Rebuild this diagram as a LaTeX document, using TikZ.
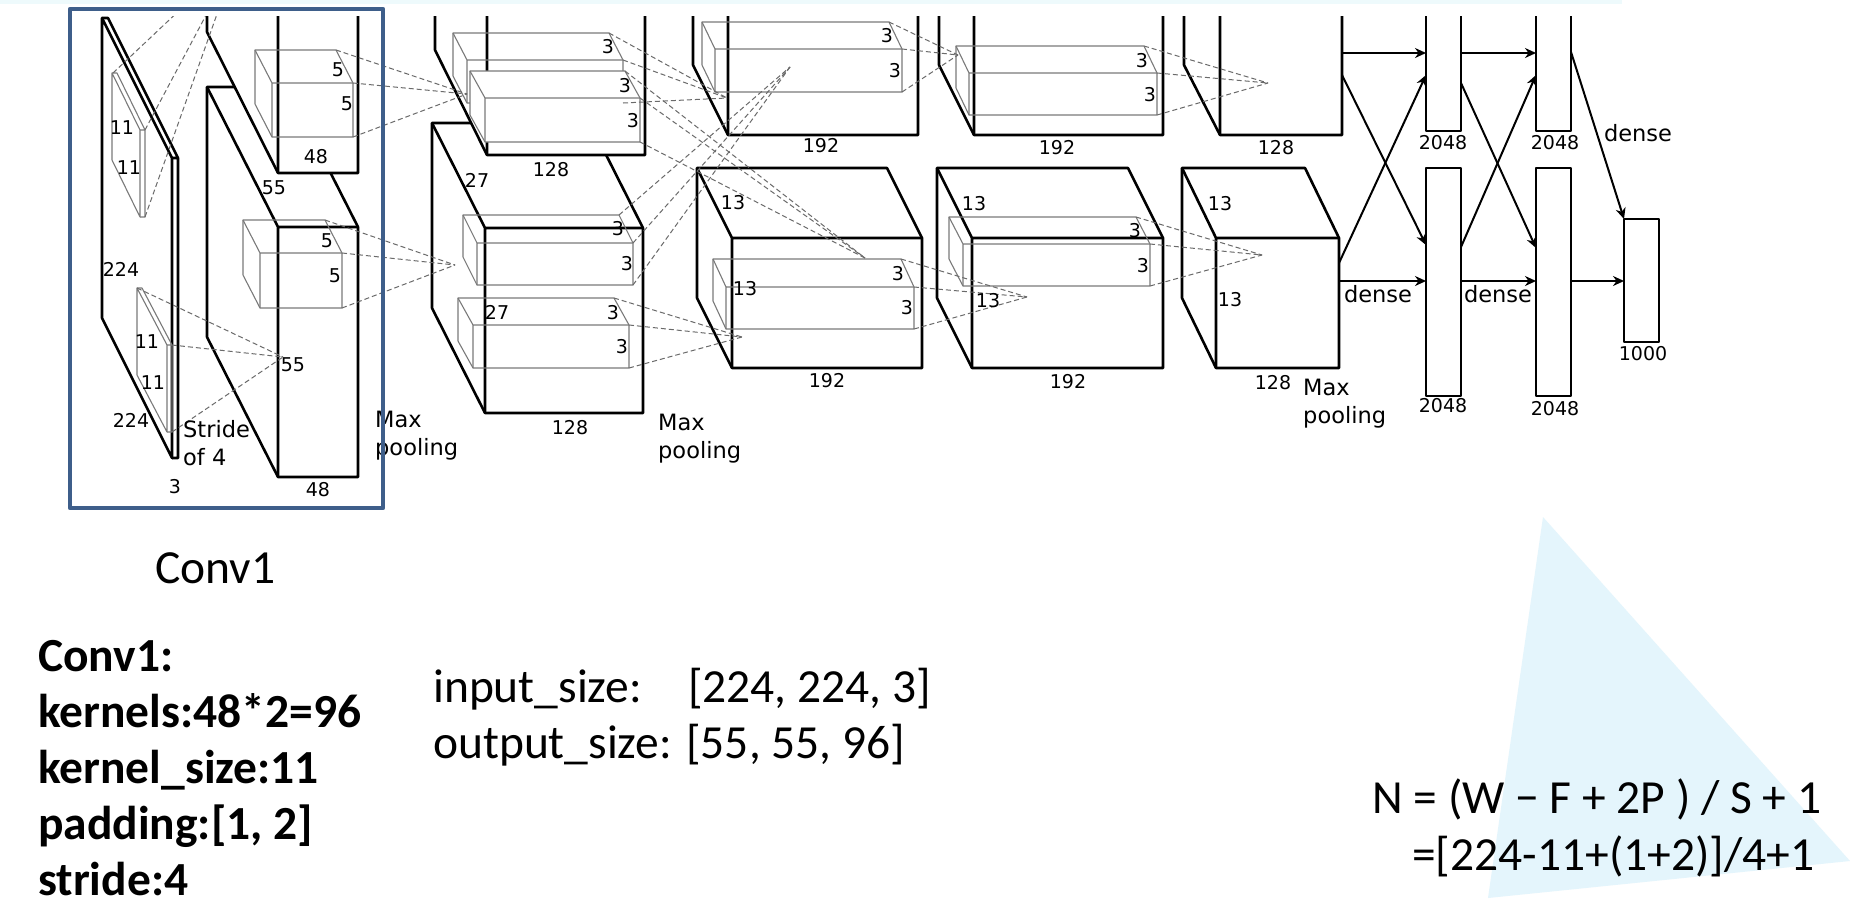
\documentclass[tikz,border=0pt]{standalone}
\usepackage{fontspec}
\setmainfont{Carlito}
\newfontfamily\figfont{DejaVu Sans}
\usetikzlibrary{arrows.meta}
\definecolor{frameblue}{HTML}{3E5E8A}
\definecolor{triblue}{HTML}{E4F5FC}
\definecolor{topcyan}{HTML}{EEFAFC}
\definecolor{kgray}{HTML}{7A7A7A}
\definecolor{dgray}{HTML}{6A6A6A}
% #1 name, #2 style, #3 x, #4 y (front top left), #5 w, #6 h, #7 dx, #8 dy (back offset)
\newcommand{\kbox}[8]{%
 \coordinate (#1-ftl) at (#3,#4);
 \coordinate (#1-ftr) at ({#3+#5},#4);
 \coordinate (#1-fbr) at ({#3+#5},{#4+#6});
 \coordinate (#1-fbl) at (#3,{#4+#6});
 \coordinate (#1-btl) at ({#3+(#7)},{#4+(#8)});
 \coordinate (#1-btr) at ({#3+#5+(#7)},{#4+(#8)});
 \coordinate (#1-bbl) at ({#3+(#7)},{#4+#6+(#8)});
 \path[#2] (#1-fbl) -- (#1-bbl) -- (#1-btl) -- (#1-btr) -- (#1-ftr) -- (#1-fbr) -- cycle;
 \draw[#2,fill=none] (#1-ftl) -- (#1-ftr) (#1-ftl) -- (#1-fbl) (#1-ftl) -- (#1-btl);
}
\begin{document}
\begin{tikzpicture}[x=1pt, y=-1pt, line join=round,
  blk/.style={draw=black, line width=2.6, fill=white},
  kb/.style={draw=kgray, line width=1.1},
  kbf/.style={kb, fill=white},
  dsh/.style={draw=dgray, line width=1, dash pattern=on 5pt off 3pt},
  num/.style={font=\figfont\fontsize{19}{20}\selectfont, inner sep=0},
  word/.style={font=\figfont\fontsize{22.5}{24}\selectfont, inner sep=0, anchor=base west},
  dlab/.style={font=\figfont\fontsize{22.5}{24}\selectfont, inner sep=0},
  arr/.style={line width=2, -{Stealth[length=11pt,width=10pt]}},
  slide/.style={font=\fontsize{47.5}{56}\selectfont, inner sep=0, anchor=base west},
  slideb/.style={font=\bfseries\fontsize{47.5}{56}\selectfont, inner sep=0, anchor=base west}]
\useasboundingbox (0,0) rectangle (1850,906);
\fill[white] (0,0) rectangle (1850,906);
\fill[topcyan] (0,0) rectangle (1622,4);
\fill[triblue] (1543,517) -- (1850,861) -- (1488,898) -- cycle;

\begin{scope}
\clip (0,16) rectangle (1850,520);
% ---- input 224x224x3
\draw[line width=2.6, fill=white] (102,18) -- (102,318) -- (172,458) -- (172,158) -- cycle;
\draw[line width=2.6] (102,18) -- (108,18) -- (178,158) -- (178,458) -- (172,458) (172,158) -- (178,158);
% input kernels 11x11
\draw[kb] (112,73) -- (112,160) -- (140,217) -- (140,130) -- cycle;
\draw[kb] (112,73) -- (117,73) -- (145,130) -- (145,217) -- (140,217) (140,130) -- (145,130);
\draw[kb] (137,288) -- (137,375) -- (167,432) -- (167,345) -- cycle;
\draw[kb] (137,288) -- (142,288) -- (172,345) -- (172,432) -- (167,432) (167,345) -- (172,345);
\coordinate (ia1) at (113,73); \coordinate (ia2) at (145,130); \coordinate (ia3) at (145,217);
\coordinate (ib1) at (137,288); \coordinate (ib2) at (172,345); \coordinate (ib3) at (172,432);
\coordinate (p1u) at (238,-45); \coordinate (p1l) at (283,357);
% ---- conv1 55x55x48 (two streams)
\kbox{c1l}{blk}{278}{227}{80}{250}{-71}{-140}
\kbox{c1u}{blk}{278}{-77}{80}{250}{-71}{-141}
\kbox{k1u}{kb}{272}{83}{81}{54}{-17}{-33}
\kbox{k1l}{kb}{260}{253}{82}{55}{-17}{-33}
\coordinate (p2u) at (467,94); \coordinate (p2l) at (455,265);
% ---- conv2 27x27x128
\kbox{c2l}{blk}{485}{228}{158}{185}{-53}{-105}
\kbox{c2u}{blk}{487}{-30}{158}{185}{-52}{-105}
\kbox{kA}{kb}{467}{60}{156}{43}{-14}{-27}
\kbox{kB}{kbf}{485}{98}{155}{44}{-15}{-27}
\kbox{kC}{kb}{477}{243}{156}{42}{-14}{-28}
\kbox{kD}{kb}{473}{325}{156}{43}{-15}{-27}
\coordinate (p3a) at (727,98); \coordinate (p3b) at (865,258);
\coordinate (p3c) at (790,67); \coordinate (p3d) at (742,337);
% ---- conv3 13x13x192
\kbox{c3l}{blk}{732}{238}{190}{130}{-35}{-70}
\kbox{c3u}{blk}{728}{5}{190}{130}{-35}{-70}
\kbox{kE}{kb}{715}{49}{187}{43}{-13}{-27}
\kbox{kF}{kb}{726}{287}{188}{42}{-13}{-28}
\coordinate (p4u) at (958,55); \coordinate (p4l) at (1027,297);
% ---- conv4 13x13x192
\kbox{c4l}{blk}{972}{238}{191}{130}{-35}{-70}
\kbox{c4u}{blk}{974}{5}{189}{130}{-35}{-70}
\kbox{kG}{kb}{969}{73}{188}{42}{-13}{-27}
\kbox{kH}{kb}{963}{244}{187}{42}{-14}{-27}
\coordinate (p5u) at (1268,83); \coordinate (p5l) at (1262,255);
% ---- conv5 13x13x128
\kbox{c5l}{blk}{1216}{238}{123}{130}{-34}{-70}
\kbox{c5u}{blk}{1220}{5}{122}{130}{-36}{-70}
% ---- dense layers
\draw[blk] (1426,-10) rectangle (1461,131);
\draw[blk] (1426,168) rectangle (1461,396);
\draw[blk] (1536,-10) rectangle (1571,131);
\draw[blk] (1536,168) rectangle (1571,396);
\draw[blk] (1624,219) rectangle (1659,342);
% ---- dashed receptive-field lines
\foreach \c in {ia1,ia2,ia3} \draw[dsh] (\c) -- (p1u);
\foreach \c in {ib1,ib2,ib3} \draw[dsh] (\c) -- (p1l);
\foreach \c in {btr,ftr,fbr} {
  \draw[dsh] (k1u-\c) -- (p2u);
  \draw[dsh] (k1l-\c) -- (p2l);
  \draw[dsh] (kA-\c) -- (p3a);
  \draw[dsh] (kB-\c) -- (p3b);
  \draw[dsh] (kC-\c) -- (p3c);
  \draw[dsh] (kD-\c) -- (p3d);
  \draw[dsh] (kE-\c) -- (p4u);
  \draw[dsh] (kF-\c) -- (p4l);
  \draw[dsh] (kG-\c) -- (p5u);
  \draw[dsh] (kH-\c) -- (p5l);
}
% ---- arrows
\coordinate (s1) at (1342,53);  \coordinate (e1) at (1426,53);
\coordinate (s2) at (1342,75);  \coordinate (e2) at (1426,245);
\coordinate (s3) at (1339,263); \coordinate (e3) at (1426,75);
\coordinate (s4) at (1339,281); \coordinate (e4) at (1426,281);
\coordinate (s5) at (1461,53);  \coordinate (e5) at (1536,53);
\coordinate (s6) at (1461,83);  \coordinate (e6) at (1536,248);
\coordinate (s7) at (1461,247); \coordinate (e7) at (1536,75);
\coordinate (s8) at (1461,281); \coordinate (e8) at (1536,281);
\coordinate (s9) at (1571,52);  \coordinate (e9) at (1624,219);
\coordinate (s10) at (1571,281); \coordinate (e10) at (1624,281);
\foreach \i in {1,...,10} \draw[arr] (s\i) -- (e\i);
\end{scope}

% ---- figure labels
\node[num] (t224a) at (121,269) {224};
\node[num] (t224b) at (131,420) {224};
\node[num] (t3in) at (175,487) {3};
\node[num] (t11a) at (122,128) {11};
\node[num] (t11b) at (129,168) {11};
\node[num] (t11c) at (147,342) {11};
\node[num] (t11d) at (153,383) {11};
\node[num] (t48a) at (316,157) {48};
\node[num] (t55a) at (274,188) {55};
\node[num] (t55b) at (293,365) {55};
\node[num] (t48b) at (318,490) {48};
\node[num] (t5a) at (338,70) {5};
\node[num] (t5b) at (347,104) {5};
\node[num] (t5c) at (327,241) {5};
\node[num] (t5d) at (335,276) {5};
\node[word] (stra) at (183,437) {Stride};
\node[word] (strb) at (183,465) {of 4};
\node[word] (mp1a) at (375,427) {Max};
\node[word] (mp1b) at (375,455) {pooling};
% conv2
\node[num] (t3A) at (608,47) {3};
\node[num] (t3B1) at (625,86) {3};
\node[num] (t3B2) at (633,121) {3};
\node[num] (t3C1) at (618,229) {3};
\node[num] (t3C2) at (627,264) {3};
\node[num] (t3D1) at (613,313) {3};
\node[num] (t3D2) at (622,347) {3};
\node[num] (t27a) at (477,180) {27};
\node[num] (t27b) at (497,312) {27};
\node[num] (t128a) at (551,170) {128};
\node[num] (t128b) at (570,428) {128};
\node[word] (mp2a) at (658,430) {Max};
\node[word] (mp2b) at (658,458) {pooling};
% conv3
\node[num] (t192a) at (821,146) {192};
\node[num] (t13a) at (733,203) {13};
\node[num] (t13b) at (745,289) {13};
\node[num] (t192b) at (827,381) {192};
\node[num] (t3E1) at (887,36) {3};
\node[num] (t3E2) at (895,71) {3};
\node[num] (t3F1) at (898,274) {3};
\node[num] (t3F2) at (907,308) {3};
% conv4
\node[num] (t192c) at (1057,148) {192};
\node[num] (t13c) at (974,204) {13};
\node[num] (t13d) at (988,301) {13};
\node[num] (t192d) at (1068,382) {192};
\node[num] (t3G1) at (1142,61) {3};
\node[num] (t3G2) at (1150,95) {3};
\node[num] (t3H1) at (1135,231) {3};
\node[num] (t3H2) at (1143,266) {3};
% conv5
\node[num] (t128c) at (1276,148) {128};
\node[num] (t13e) at (1220,204) {13};
\node[num] (t13f) at (1230,300) {13};
\node[num] (t128d) at (1273,383) {128};
\node[word] (mp5a) at (1303,395) {Max};
\node[word] (mp5b) at (1303,423) {pooling};
% dense
\node[num] (t2048a) at (1443,143) {2048};
\node[num] (t2048b) at (1443,406) {2048};
\node[num] (t2048c) at (1555,143) {2048};
\node[num] (t2048d) at (1555,409) {2048};
\node[num] (t1000) at (1643,354) {1000};
\node[dlab] (dn1) at (1378,294) {dense};
\node[dlab] (dn2) at (1498,294) {dense};
\node[dlab] (dn3) at (1638,133) {dense};

% ---- highlight frame
\draw[frameblue, line width=4.5] (70,9) rectangle (383,508);

% ---- slide text
\node[slide] (cap) at (155,583) {Conv1};
\node[slideb] (b1) at (38,671) {Conv1:};
\node[slideb] (b2) at (38,727) {kernels:48*2=96};
\node[slideb] (b3) at (38,783) {kernel\_size:11};
\node[slideb] (b4) at (38,839) {padding:[1, 2]};
\node[slideb] (b5) at (38,895) {stride:4};
\node[slide] (io1) at (433,702) {\makebox[255pt][l]{input\_size:}[224, 224, 3]};
\node[slide] (io2) at (433,758) {output\_size: [55, 55, 96]};
\node[slide] (f1) at (1372,813) {N = (W − F + 2P ) / S + 1};
\node[slide] (f2) at (1412,870) {=[224-11+(1+2)]/4+1};
\end{tikzpicture}
\end{document}
